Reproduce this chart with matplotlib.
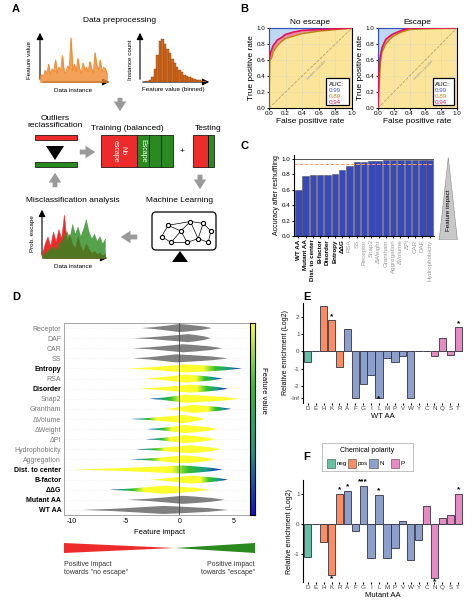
import matplotlib
matplotlib.use("Agg")
import matplotlib.pyplot as plt
import numpy as np
from matplotlib.patches import Rectangle, Polygon, FancyBboxPatch
from matplotlib.colors import LinearSegmentedColormap

W, H = 474, 603
RED = "#ee2b2b"
GREEN = "#2a8a1f"
ORANGE = "#f08a30"
ARROW = "#9a9a9a"

# ---- panel A schematic data
feature_trace = [3, 5, 4, 8, 6, 12, 5, 9, 7, 15, 6, 10, 8, 18, 7, 6, 11, 9, 30, 8, 12, 7, 16, 9, 6, 13,
                 8, 10, 7, 14, 9, 6, 20, 11, 8, 15, 7, 10, 9, 6]
hist_counts = [1, 2, 5, 12, 25, 38, 40, 36, 31, 27, 22, 18, 14, 11, 9, 7, 6, 5, 4, 3, 2, 2, 1, 1]
prob_red = [10, 30, 45, 25, 55, 35, 60, 40, 90, 35, 50, 30, 20, 45, 25, 15, 30, 20, 10, 15, 8, 12, 5, 10]
prob_green = [5, 10, 15, 20, 25, 15, 30, 35, 45, 55, 40, 70, 50, 65, 45, 60, 80, 55, 40, 50, 35, 45, 30, 40]
net_nodes = [(0.15, 0.65), (0.3, 0.8), (0.25, 0.35), (0.45, 0.5), (0.55, 0.8), (0.6, 0.25),
             (0.72, 0.7), (0.8, 0.3), (0.88, 0.8), (0.92, 0.5)]
net_edges = [(0, 1), (0, 2), (1, 3), (2, 3), (3, 4), (3, 5), (4, 6), (5, 6), (6, 7), (6, 8),
             (7, 9), (8, 9), (1, 4), (2, 5), (5, 7)]

# ---- panel B ROC data
roc_ne_red_fpr = [0, 0, 0.02, 0.03, 0.05, 0.08, 0.1, 0.15, 0.2, 0.3, 0.4, 0.6, 0.8, 1]
roc_ne_red_tpr = [0, 0.6, 0.7, 0.72, 0.78, 0.82, 0.85, 0.88, 0.92, 0.95, 0.97, 0.98, 0.99, 1]
roc_ne_gold_fpr = [0, 0.01, 0.03, 0.05, 0.1, 0.15, 0.2, 0.3, 0.4, 0.6, 0.8, 1]
roc_ne_gold_tpr = [0, 0.6, 0.62, 0.7, 0.78, 0.83, 0.87, 0.9, 0.93, 0.96, 0.98, 1]
roc_e_red_fpr = [0, 0.01, 0.02, 0.05, 0.08, 0.1, 0.15, 0.2, 0.25, 0.3, 0.4, 1]
roc_e_red_tpr = [0, 0.4, 0.6, 0.75, 0.82, 0.86, 0.9, 0.93, 0.95, 0.97, 1, 1]
roc_e_gold_fpr = [0, 0.01, 0.03, 0.05, 0.1, 0.15, 0.2, 0.3, 0.4, 0.6, 1]
roc_e_gold_tpr = [0, 0.2, 0.55, 0.7, 0.8, 0.86, 0.9, 0.95, 0.98, 0.99, 1]
auc_labels = ["0.99", "0.89", "0.94"]

# ---- panel C
c_features = ["WT AA", "Mutant AA", "Dist. to center", "B-factor", "Disorder", "Entropy", "ΔΔG",
              "RSA", "SS", "Receptor", "Snap2", "ΔWeight", "Grantham", "Aggregation", "ΔVolume",
              "ΔPI", "CAR", "DAF", "Hydrophobicity"]
c_acc = [0.60, 0.78, 0.79, 0.795, 0.795, 0.81, 0.86, 0.91, 0.955, 0.965, 0.97, 0.975, 0.98, 0.98,
         0.98, 0.985, 0.99, 0.99, 0.99]
c_bold = 7

# ---- panel D
d_features = ["Receptor", "DAF", "CAR", "SS", "Entropy", "RSA", "Disorder", "Snap2", "Grantham",
              "ΔVolume", "ΔWeight", "ΔPI", "Hydrophobicity", "Aggregation", "Dist. to center",
              "B-factor", "ΔΔG", "Mutant AA", "WT AA"]
d_bold = ["Entropy", "Disorder", "Dist. to center", "B-factor", "ΔΔG", "Mutant AA", "WT AA"]
d_grey = ["Receptor", "DAF", "CAR", "SS", "Mutant AA", "WT AA"]
d_min = [-3.5, -4.3, -4.3, -4.3, -4.8, -3.2, -3.8, -2.8, -1.3, -4.5, -3.0, -3.1, -4.1, -4.5, -10.0,
         -2.8, -6.5, -4.8, -9.0]
d_max = [3.0, 2.9, 4.0, 4.5, 5.8, 4.0, 4.5, 5.6, 4.8, 2.3, 3.5, 3.3, 3.8, 3.3, 4.0, 4.5, 2.8, 4.2, 4.5]
d_peak = [0.0, 0.8, 0.3, -0.3, 0.5, 0.5, 1.0, 0.5, 1.2, 0.3, 0.5, 0.5, 1.0, 0.5, 0.3, 1.0, -1.5, 0.3, -1.5]
d_blue_side = [0, 0, 0, 0, 1, 1, 1, -1, 1, -1, -1, -1, -1, -1, 1, 1, -1, 0, 0]

# ---- panels E / F
aa = ["D", "E", "H", "K", "R", "A", "F", "G", "I", "L", "M", "P", "V", "W", "Y", "C", "N", "Q", "S", "T"]
aa_group = ["neg", "neg", "pos", "pos", "pos", "N", "N", "N", "N", "N", "N", "N", "N", "N", "N",
            "P", "P", "P", "P", "P"]
NEG_INF = -2.7
wt_enrich = [-0.6, 0, 2.6, 1.8, -0.9, 1.3, NEG_INF, -1.9, -1.4, NEG_INF, -0.4, -0.6, -0.25, NEG_INF,
             0, 0, -0.3, 0.75, -0.2, 1.4]
wt_stars = {"K": "*", "L": "*", "T": "*"}
mut_enrich = [-1.1, 0, -0.6, -1.7, 1.0, 1.1, -0.25, 1.25, -1.15, 0.95, -1.15, -0.8, 0.08, -1.2,
              -0.55, 0.6, -1.8, 0.2, 0.28, 1.0]
mut_stars = {"K": "*", "R": "*", "A": "*", "G": "***", "L": "*", "N": "*", "T": "*"}
group_colors = {"neg": "#66c2a5", "pos": "#fc8d62", "N": "#8da0cb", "P": "#e78ac3"}

plt.rcParams["font.family"] = ["Liberation Sans", "DejaVu Sans"]
fig = plt.figure(figsize=(W / 100, H / 100), dpi=100)


def px_axes(x0, y0, x1, y1, **kw):
    return fig.add_axes([x0 / W, 1 - y1 / H, (x1 - x0) / W, (y1 - y0) / H], **kw)


def letter(x, y, s):
    fig.text(x / W, 1 - y / H, s, fontsize=8, fontweight="bold", va="center")


# ================= A
ov = px_axes(0, 0, 237, 280)
ov.set_xlim(0, 237)
ov.set_ylim(280, 0)
ov.axis("off")
letter(12, 9, "A")
ov.text(120, 21, "Data preprocessing", ha="center", va="center", fontsize=6)


def arrow(x0, y0, x1, y1):
    ov.annotate("", xy=(x1, y1), xytext=(x0, y0),
                arrowprops=dict(arrowstyle="simple,head_width=0.9,head_length=0.7,tail_width=0.35",
                                color=ARROW, lw=0))


def mini_axes(x0, y0, x1, y1):
    a = px_axes(x0, y0, x1, y1)
    a.set_xticks([])
    a.set_yticks([])
    for s in a.spines.values():
        s.set_visible(False)
    ov.annotate("", xy=(x0, y0 - 5), xytext=(x0, y1), arrowprops=dict(arrowstyle="-|>", lw=0.8, color="k"))
    ov.annotate("", xy=(x1 + 5, y1), xytext=(x0, y1), arrowprops=dict(arrowstyle="-|>", lw=0.8, color="k"))
    a.patch.set_alpha(0)
    return a


a1 = mini_axes(40, 35, 107, 82)
a1.fill_between(range(len(feature_trace)), feature_trace, color=ORANGE, alpha=0.8, lw=0.5)
a1.plot(feature_trace, color=ORANGE, lw=0.6)
a1.set_xlim(0, len(feature_trace) - 1)
a1.set_ylim(0, 32)
ov.text(30, 60, "Feature value", rotation=90, ha="center", va="center", fontsize=4.5)
ov.text(73, 90, "Data instance", ha="center", va="center", fontsize=4.5)

a2 = mini_axes(140, 35, 207, 82)
a2.bar(range(len(hist_counts)), hist_counts, width=1, color="#d2691e", edgecolor="#8b4513", lw=0.3)
a2.set_xlim(-3, len(hist_counts))
a2.set_ylim(0, 44)
ov.text(131, 60, "Instance count", rotation=90, ha="center", va="center", fontsize=4.5)
ov.text(173, 90, "Feature value (binned)", ha="center", va="center", fontsize=4.5)

arrow(120, 95, 120, 114)
ov.text(55, 122, "Outliers\nreclassification", ha="center", va="center", fontsize=6, linespacing=1.1)
ov.add_patch(Rectangle((35, 135), 42, 5, fc=RED, ec="k", lw=0.5))
ov.add_patch(Polygon([(46, 146), (64, 146), (55, 160)], fc="k"))
ov.add_patch(Rectangle((35, 162), 42, 5, fc=GREEN, ec="k", lw=0.5))
arrow(77, 152, 98, 152)
ov.text(127, 128, "Training (balanced)", ha="center", va="center", fontsize=6)
ov.add_patch(Rectangle((101, 135), 36, 32, fc=RED, ec="k", lw=0.5))
for gx in (137, 149, 161):
    ov.add_patch(Rectangle((gx, 135), 12, 32, fc=GREEN, ec="k", lw=0.5))
ov.text(119, 151, "No\nescape", rotation=270, color="white", ha="center", va="center", fontsize=5,
        linespacing=1.0)
ov.text(143, 151, "Escape", rotation=270, color="white", ha="center", va="center", fontsize=5)
ov.text(182, 152, "+", ha="center", va="center", fontsize=6)
ov.text(208, 128, "Testing", ha="center", va="center", fontsize=6)
ov.add_patch(Rectangle((193, 135), 15, 32, fc=RED, ec="k", lw=0.5))
ov.add_patch(Rectangle((208, 135), 6, 32, fc=GREEN, ec="k", lw=0.5))
arrow(200, 172, 200, 192)
ov.text(180, 200, "Machine Learning", ha="center", va="center", fontsize=6)
ov.add_patch(FancyBboxPatch((152, 212), 64, 38, boxstyle="round,pad=0,rounding_size=4", fc="white",
                            ec="k", lw=0.9))
ov.add_patch(Polygon([(172, 262), (188, 262), (180, 251)], fc="k"))
for i, j in net_edges:
    ov.plot([152 + 64 * net_nodes[i][0], 152 + 64 * net_nodes[j][0]],
            [212 + 38 * net_nodes[i][1], 212 + 38 * net_nodes[j][1]], color="k", lw=0.5)
for nx, ny in net_nodes:
    ov.plot(152 + 64 * nx, 212 + 38 * ny, "o", ms=3, mfc="white", mec="k", mew=0.8)
arrow(140, 237, 118, 237)
ov.text(73, 200, "Misclassification analysis", ha="center", va="center", fontsize=6)
arrow(55, 190, 55, 170)
a3 = mini_axes(42, 212, 105, 258)
a3.fill_between(range(len(prob_red)), prob_red, color=RED, lw=0.3)
a3.fill_between(range(len(prob_green)), prob_green, color=GREEN, alpha=0.8, lw=0.3)
a3.set_xlim(0, len(prob_red) - 1)
a3.set_ylim(0, 95)
ov.text(33, 234, "Prob. escape", rotation=90, ha="center", va="center", fontsize=4.5)
ov.text(73, 266, "Data instance", ha="center", va="center", fontsize=4.5)

# ================= B
letter(240, 9, "B")


def roc(ax, title, rf, rt, gf, gt):
    ax.set_facecolor("white")
    ax.fill_between([0, 0, 1], [0, 1, 1], color="#bcd8f5", zorder=1)
    ax.fill_between(rf, rt, color="#f08aa8", zorder=1)
    ax.fill_between(gf, gt, color="#fbe59a", zorder=1)
    ax.plot([0, 0, 1], [0, 1, 1], color="#3355dd", lw=1.2, zorder=3)
    ax.plot(gf, gt, color="#b8860b", lw=1.0, zorder=3)
    ax.plot(rf, rt, color="#e8105a", lw=1.2, zorder=3)
    ax.plot([0, 1], [0, 1], ls="--", color="#b8a070", lw=0.6, zorder=3)
    ax.grid(True, ls=":", color="#cccccc", lw=0.5)
    ax.set_axisbelow(False)
    ax.set_xlim(0, 1)
    ax.set_ylim(0, 1)
    ticks = [0, 0.2, 0.4, 0.6, 0.8, 1.0]
    ax.set_xticks(ticks)
    ax.set_yticks(ticks)
    ax.set_xticklabels(["0.0", "0.2", "0.4", "0.6", "0.8", "1.0"])
    ax.set_yticklabels(["0.0", "0.2", "0.4", "0.6", "0.8", "1.0"])
    ax.tick_params(labelsize=4.5, length=1.5, pad=1)
    ax.set_xlabel("False positive rate", fontsize=6, labelpad=1)
    ax.set_ylabel("True positive rate", fontsize=6, labelpad=1)
    ax.set_title(title, fontsize=6, pad=3)
    ax.add_patch(Rectangle((0.69, 0.04), 0.27, 0.34, transform=ax.transAxes, fc="white", ec="k",
                           lw=0.9, zorder=5))
    ax.text(0.72, 0.3, "AUC:", transform=ax.transAxes, fontsize=4.5, va="center", zorder=6)
    for k, (s, c) in enumerate(zip(auc_labels, ["#3355dd", "#b8860b", "#e8105a"])):
        ax.text(0.72, 0.22 - k * 0.075, s, color=c, transform=ax.transAxes, fontsize=4.5,
                va="center", zorder=6)
    ax.text(0.58, 0.47, "random classifier", rotation=45, fontsize=2.5, color="#999999",
            ha="center", va="center", transform=ax.transAxes, zorder=4)


roc(px_axes(269, 28, 352, 108), "No escape", roc_ne_red_fpr, roc_ne_red_tpr, roc_ne_gold_fpr, roc_ne_gold_tpr)
roc(px_axes(378, 28, 457, 108), "Escape", roc_e_red_fpr, roc_e_red_tpr, roc_e_gold_fpr, roc_e_gold_tpr)

# ================= C
letter(240, 146, "C")
ac = px_axes(294, 155, 434, 236)
xc = np.arange(len(c_features))
ac.bar(xc, c_acc, width=0.88, color="#3848b8", edgecolor="#555555", lw=0.4)
ac.axhline(1.0, color="#555555", lw=0.7)
ac.axhline(0.93, color="#f4a070", lw=0.7, ls="--")
ac.set_xlim(-0.6, len(c_features) - 0.4)
ac.set_ylim(0, 1.05)
ac.set_yticks([0, 0.2, 0.4, 0.6, 0.8, 1.0])
ac.set_yticklabels(["0.0", "0.2", "0.4", "0.6", "0.8", "1.0"])
ac.tick_params(labelsize=4.5, length=1.5, pad=1)
ac.set_xticks(xc)
ac.set_xticklabels(c_features, rotation=90, fontsize=4.5)
for k, t in enumerate(ac.get_xticklabels()):
    if k < c_bold:
        t.set_fontweight("bold")
    else:
        t.set_color("#999999")
ac.set_ylabel("Accuracy after reshuffling", fontsize=5, labelpad=1)
for s in ("top", "right"):
    ac.spines[s].set_visible(False)
ov2 = px_axes(434, 155, 460, 240)
ov2.axis("off")
ov2.set_xlim(0, 1)
ov2.set_ylim(0, 1)
ov2.add_patch(Polygon([(0.55, 0.97), (0.2, 0.0), (0.9, 0.0)], fc="#c8c8c8", ec="#888888", lw=0.4))
ov2.text(0.55, 0.35, "Feature impact", rotation=90, fontsize=4.5, ha="center", va="center")

# ================= D
letter(12, 297, "D")
ad = px_axes(64, 323, 255, 515)
n = len(d_features)
ad.set_xlim(-10.7, 7.0)
ad.set_ylim(n - 0.5, -0.5)
cmap = LinearSegmentedColormap.from_list("fv", ["#1010cc", "#1a9a8a", "#30c030", "#ffff30"])
t = np.linspace(0, 1, 256)
toward_blue = 1 - np.clip((t - 0.65) / 0.35, 0, 1)
for i, f in enumerate(d_features):
    lo, hi, pk = d_min[i], d_max[i], d_peak[i]
    w = 0.4
    pts = [(lo, i), (lo + 0.35 * (pk - lo), i - 0.1), (lo + 0.75 * (pk - lo), i - 0.28),
           (pk, i - w), (pk + 0.3 * (hi - pk), i - 0.32), (pk + 0.7 * (hi - pk), i - 0.18),
           (hi, i), (pk + 0.7 * (hi - pk), i + 0.18), (pk + 0.3 * (hi - pk), i + 0.32),
           (pk, i + w), (lo + 0.75 * (pk - lo), i + 0.28), (lo + 0.35 * (pk - lo), i + 0.1)]
    ad.axhline(i, color="#e6e6e6", lw=0.4, ls=":", zorder=0)
    poly = Polygon(pts, closed=True, fc="#808080" if f in d_grey else "none", ec="none", zorder=2)
    ad.add_patch(poly)
    if f not in d_grey:
        ext = [lo, hi, i + w, i - w] if d_blue_side[i] > 0 else [hi, lo, i + w, i - w]
        im = ad.imshow(toward_blue[None, :], cmap=cmap, extent=ext, aspect="auto", zorder=2,
                       vmin=0, vmax=1, interpolation="bilinear")
        im.set_clip_path(poly)
ad.axvline(0, color="#444444", lw=0.6, zorder=3)
ad.set_yticks(range(n))
ad.set_yticklabels(d_features, fontsize=5.5)
for tl in ad.get_yticklabels():
    if tl.get_text() in d_bold:
        tl.set_fontweight("bold")
    else:
        tl.set_color("#777777")
ad.set_xticks([-10, -5, 0, 5])
ad.set_xticklabels(["-10", "-5", "0", "5"])
ad.tick_params(labelsize=5, length=0, pad=2)
ad.set_xlabel("Feature impact", fontsize=5.5, labelpad=3)
for s in ad.spines.values():
    s.set_color("#999999")
    s.set_linewidth(0.6)
acb = px_axes(250, 323, 255, 515)
acb.imshow(np.linspace(1, 0, 256)[:, None], cmap=cmap, aspect="auto")
acb.set_xticks([])
acb.set_yticks([])
fig.text(263 / W, 1 - 390 / H, "Feature value", rotation=270, fontsize=5.5, ha="center", va="center")
ag = px_axes(64, 543, 255, 553)
ag.set_xlim(0, 1)
ag.set_ylim(0, 1)
ag.axis("off")
ag.add_patch(Polygon([(0, 0), (0, 1), (0.58, 0.5)], fc=RED, ec="none"))
ag.add_patch(Polygon([(1, 0), (1, 1), (0.58, 0.5)], fc=GREEN, ec="none"))
fig.text(64 / W, 1 - 569 / H, 'Positive impact\ntowards "no escape"', fontsize=5, va="center",
         color="#333333")
fig.text(255 / W, 1 - 569 / H, 'Positive impact\ntowards "escape"', fontsize=5, va="center",
         ha="right", color="#333333")


# ================= E / F
def enrich(ax, vals, stars, xlabel, yticks, ylabels, ylim):
    cols = [group_colors[g] for g in aa_group]
    x = np.arange(len(aa))
    ax.bar(x, vals, width=0.92, color=cols, edgecolor="#333344", lw=0.6)
    ax.axhline(0, color="#777777", lw=0.6, zorder=0)
    for k, a in enumerate(aa):
        if a in stars:
            v = vals[k]
            ax.text(k, v + (0.02 if v > 0 else -0.25), stars[a], ha="center",
                    va="bottom", fontsize=6, fontweight="bold")
    ax.set_xticks(x)
    ax.set_xticklabels(aa, fontsize=4.5, color="#444444")
    ax.set_xlim(-0.6, len(aa) - 0.4)
    ax.set_ylim(*ylim)
    ax.set_yticks(yticks)
    ax.set_yticklabels(ylabels, fontsize=4.5, color="#444444")
    ax.tick_params(length=1.5, pad=1)
    ax.set_xlabel(xlabel, fontsize=5.5, labelpad=1)
    ax.set_ylabel("Relative enrichment (Log2)", fontsize=5, labelpad=1)
    for s in ("top", "right"):
        ax.spines[s].set_visible(False)
    ax.spines["bottom"].set_visible(False)


letter(303, 297, "E")
ae = px_axes(303, 303, 463, 403)
enrich(ae, wt_enrich, wt_stars, "WT AA", [-2.7, -2, -1, 0, 1, 2], ["-Inf", "-2", "-1", "0", "1", "2"],
       (-3.0, 2.8))
letter(303, 457, "F")
af = px_axes(303, 480, 463, 582)
enrich(af, mut_enrich, mut_stars, "Mutant AA", [-1, 0, 1], ["-1", "0", "1"], (-1.95, 1.45))

# legend
lg = px_axes(322, 443, 413, 471)
lg.set_xlim(0, 1)
lg.set_ylim(0, 1)
lg.set_xticks([])
lg.set_yticks([])
for s in lg.spines.values():
    s.set_color("#aaaaaa")
    s.set_linewidth(0.5)
lg.text(0.5, 0.75, "Chemical polarity", ha="center", va="center", fontsize=5)
for k, g in enumerate(["neg", "pos", "N", "P"]):
    lg.add_patch(Rectangle((0.05 + k * 0.235, 0.12), 0.09, 0.32, fc=group_colors[g], ec="#444444", lw=0.4))
    lg.text(0.16 + k * 0.235, 0.28, g, fontsize=4.5, va="center")

fig.savefig("out.png", dpi=100)
